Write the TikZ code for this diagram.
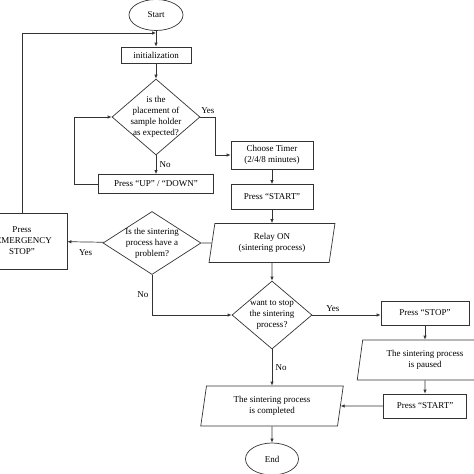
\documentclass[tikz,border=0pt]{standalone}
\usepackage{fontspec}
\setmainfont{Liberation Serif}
\usetikzlibrary{shapes.geometric,arrows.meta}

\newcommand{\mainColX}{156}
\newcommand{\sideColX}{272}
\newcommand{\rightColX}{425}
\newcommand{\flowLineWidth}{0.7pt}

\tikzset{
  flowline/.style={line width=\flowLineWidth, draw=black!80},
  flowarrow/.style={flowline, -{Latex[length=4pt,width=3.5pt]}},
  terminal/.style={draw=black!80, ellipse, line width=\flowLineWidth, minimum width=54pt, minimum height=31pt, inner sep=0pt},
  procbox/.style={draw=black!80, rectangle, line width=\flowLineWidth, align=center, inner sep=0pt},
  decision/.style={draw=black!80, diamond, line width=\flowLineWidth, inner sep=0pt},
  iobox/.style={draw=black!80, trapezium, trapezium left angle=80, trapezium right angle=100, trapezium stretches=true, line width=\flowLineWidth, align=center, inner sep=0pt},
}

\begin{document}
\begin{tikzpicture}[x=1pt, y=-1pt, font=\fontsize{9}{11}\selectfont]
        \useasboundingbox (0,0) rectangle (474,474);

        % Left column
        \node[terminal] (start) at (\mainColX,15) {Start};
        \node[procbox, minimum width=70pt, minimum height=16pt] (init) at (\mainColX,55) {initialization};
        \node[decision, minimum width=88pt, minimum height=76pt, label={[align=center]center:is the\\placement of\\sample holder\\as expected?}] (placement) at (\mainColX,117) {};
        \node[procbox, minimum width=115pt, minimum height=19pt] (updown) at (\mainColX,184) {Press “UP” / “DOWN”};
        \node[decision, minimum width=98pt, minimum height=63pt, label={[align=center]center:Is the sintering\\process have a\\problem?}] (problem) at (152,243) {};
        \node[procbox, minimum width=90pt, minimum height=56pt] (emergency) at (22,241) {Press\\“EMERGENCY\\STOP”};

        % Middle column
        \node[procbox, minimum width=82pt, minimum height=28pt] (timer) at (\sideColX,155) {Choose Timer\\(2/4/8 minutes)};
        \node[procbox, minimum width=82pt, minimum height=25pt] (pressstart) at (\sideColX,197) {Press “START”};
        \node[iobox, minimum width=126pt, minimum height=39pt] (relay) at (\sideColX,243) {Relay ON\\(sintering process)};
        \node[decision, minimum width=80pt, minimum height=68pt, label={[align=center]center:want to stop\\the sintering\\process?}] (stopq) at (\sideColX,315) {};
        \node[iobox, minimum width=143pt, minimum height=40pt] (completed) at (\sideColX,406) {The sintering process\\is completed};
        \node[terminal, minimum width=53pt, minimum height=32pt] (end) at (\sideColX,459) {End};

        % Right column
        \node[procbox, minimum width=88pt, minimum height=24pt] (pressstop) at (\rightColX,313) {Press “STOP”};
        \node[iobox, minimum width=136pt, minimum height=40pt] (paused) at (\rightColX,360) {The sintering process\\is paused};
        \node[procbox, minimum width=83pt, minimum height=24pt] (pressresume) at (\rightColX,406) {Press “START”};

        % Start and placement loop
        \coordinate (loopin) at (\mainColX,33);
        \draw[flowline] (start) -- (loopin);
        \draw[flowarrow] (loopin) -- (init);
        \draw[flowarrow] (init) -- (placement);
        \draw[flowarrow] (placement) -- node[right] {No} (updown);
        \draw[flowarrow] (updown.west) -- ++(-24,0) |- (placement.west);
        \draw[flowarrow] (placement.east) -- node[above] {Yes} ++(15,0) |- (timer.west);

        % Sintering
        \draw[flowarrow] (timer) -- (pressstart);
        \draw[flowarrow] (pressstart) -- (relay);
        \draw[flowline] (relay) -- (problem);
        \draw[flowarrow] (problem) -- node[below=4pt] {Yes} (emergency);
        \draw[flowarrow] (emergency.north) |- (loopin);
        \draw[flowarrow] (problem.south) |- node[pos=0.25, left] {No} (stopq.west);
        \draw[flowarrow] (relay) -- (stopq);

        % Stop and resume
        \draw[flowarrow] (stopq.east) -- node[pos=0.3, above] {Yes} (stopq.east -| pressstop.west);
        \draw[flowarrow] (pressstop) -- (paused);
        \draw[flowarrow] (paused) -- (pressresume);
        \draw[flowarrow] (pressresume) -- (completed);
        \draw[flowarrow] (stopq) -- node[right] {No} (completed);
        \draw[flowarrow] (completed) -- (end);
    \end{tikzpicture}
\end{document}
